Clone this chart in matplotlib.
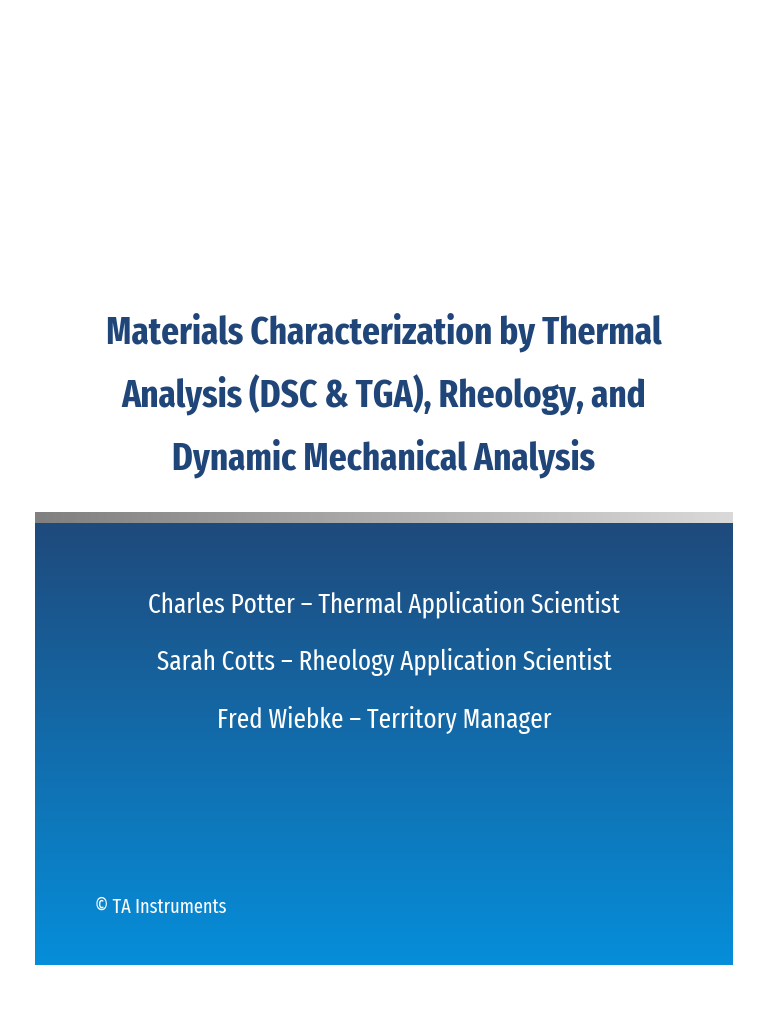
"""Title slide: thermal analysis / rheology / DMA seminar."""
import numpy as np
import matplotlib
matplotlib.use("Agg")
import matplotlib.pyplot as plt

title_lines = [
    "Materials Characterization by Thermal",
    "Analysis (DSC & TGA), Rheology, and",
    "Dynamic Mechanical Analysis",
]
speakers = [
    "Charles Potter \u2013 Thermal Application Scientist",
    "Sarah Cotts \u2013 Rheology Application Scientist",
    "Fred Wiebke \u2013 Territory Manager",
]
footer = "\u00a9 TA Instruments"

family = ["Fira Sans Extra Condensed", "Roboto Condensed", "DejaVu Sans"]

W, H = 768, 1024
fig = plt.figure(figsize=(W / 100, H / 100), dpi=100)
ax = fig.add_axes([0, 0, 1, 1])
ax.set_xlim(0, W)
ax.set_ylim(H, 0)
ax.axis("off")
renderer = fig.canvas.get_renderer()


def fit_size(txt, width_px, size0):
    # scale font size so the first line spans the wanted width
    w = txt.get_window_extent(renderer).width
    txt.set_fontsize(size0 * width_px / w)
    return size0 * width_px / w


# gray bar, dark-to-light horizontal gradient
gray = np.linspace(0.50, 0.85, 256)[None, :]
ax.imshow(gray, cmap="gray", vmin=0, vmax=1, extent=(35, 733, 523, 512),
          aspect="auto", zorder=1)

# blue box, vertical gradient
top = np.array([31, 74, 124]) / 255
bot = np.array([6, 142, 218]) / 255
t = np.linspace(0, 1, 256)[:, None]
grad = top + (bot - top) * t
ax.imshow(grad[:, None, :], extent=(35, 733, 965, 523), aspect="auto", zorder=1)

title_color = "#1f4579"
title_txt = [ax.text(384, 332 + i * 63, line, ha="center", va="center", fontsize=30,
                     fontweight="bold", color=title_color, family=family, zorder=3)
             for i, line in enumerate(title_lines)]
size = fit_size(title_txt[0], 557, 30)
for tx in title_txt[1:]:
    tx.set_fontsize(size)

sp_txt = [ax.text(384, 604 + i * 58, line, ha="center", va="center", fontsize=21,
                  color="white", family=family, zorder=3)
          for i, line in enumerate(speakers)]
size = fit_size(sp_txt[0], 472, 21)
for tx in sp_txt[1:]:
    tx.set_fontsize(size)

ft = ax.text(95, 907, footer, ha="left", va="center", fontsize=16,
             color="white", family=family, zorder=3)
fit_size(ft, 132, 16)

fig.savefig("out.png", dpi=100)
plt.close(fig)
